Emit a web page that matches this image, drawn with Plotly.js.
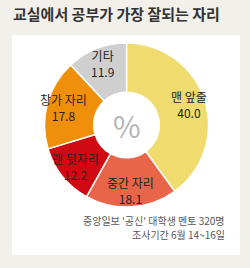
<!DOCTYPE html>
<html>
<head>
<meta charset="utf-8">
<script src="https://cdn.plot.ly/plotly-3.0.1.min.js"></script>
<style>html,body{margin:0;padding:0;background:#f2f0eb;}#chart{width:250px;height:268px;}</style>
</head>
<body>
<div id="chart"></div>
<script>
const categories = ["맨 앞줄", "중간 자리", "맨 뒷자리", "창가 자리", "기타"];
const values = [40.0, 18.1, 12.2, 17.8, 11.9];
const colors = ["#f0dc6e", "#e8654a", "#d00a12", "#f0900a", "#cfcfcf"];
const titleText = "교실에서 공부가 가장 잘되는 자리";
const sourceLines = ["중앙일보 '공신' 대학생 멘토 320명", "조사기간 6월 14~16일"];

const FONT = "'Noto Sans CJK KR', 'Noto Sans', sans-serif";
const W = 250, H = 268;
const dom = { x: [0.178, 0.834], y: [0.2276, 0.8396] };

const trace = {
  type: "pie",
  labels: categories,
  values: values,
  textinfo: "none",
  hoverinfo: "label+value",
  sort: false,
  direction: "clockwise",
  rotation: 0,
  hole: 0.4,
  marker: { colors: colors, line: { color: "#ffffff", width: 1.5 } },
  domain: dom,
  showlegend: false
};

// slice labels placed along each slice's mid-angle (derived from the values)
const cx = (dom.x[0] + dom.x[1]) / 2, cy = (dom.y[0] + dom.y[1]) / 2;
const Rpx = Math.min((dom.x[1] - dom.x[0]) * W, (dom.y[1] - dom.y[0]) * H) / 2;
const labelR = 0.8 * Rpx;
const total = values.reduce((a, b) => a + b, 0);
const labelAnns = [];
let cum = 0;
values.forEach((v, i) => {
  const mid = (cum + v / 2) / total * 2 * Math.PI;
  cum += v;
  labelAnns.push({
    xref: "paper", yref: "paper",
    x: cx + Math.sin(mid) * labelR / W,
    y: cy + Math.cos(mid) * labelR / H,
    xanchor: "center", yanchor: "middle", align: "center",
    text: categories[i] + "<br>" + values[i].toFixed(1),
    showarrow: false, borderpad: 0,
    font: { family: FONT, size: 12, color: "#222222" }
  });
});

const layout = {
  width: W, height: H,
  margin: { l: 0, r: 0, t: 0, b: 0 },
  paper_bgcolor: "#f2f0eb",
  title: {
    text: "<b>" + titleText + "</b>",
    font: { family: FONT, size: 15, color: "#333333" },
    x: 0.052, xanchor: "left", xref: "paper",
    y: 0.944, yanchor: "middle", yref: "paper"
  },
  shapes: [{
    type: "rect", xref: "paper", yref: "paper", layer: "below",
    x0: 12 / W, x1: 240 / W, y0: 1 - 255 / H, y1: 1 - 35 / H,
    fillcolor: "#ffffff", line: { width: 0 }
  }],
  annotations: labelAnns.concat([
    { text: "%", xref: "paper", yref: "paper", x: cx, y: cy, xanchor: "center", yanchor: "middle",
      showarrow: false, font: { family: FONT, size: 30, color: "#b5b5b5" } },
    { text: sourceLines[0], xref: "paper", yref: "paper", x: 226 / W, y: 1 - 220 / H,
      xanchor: "right", yanchor: "middle", showarrow: false, borderpad: 0,
      font: { family: FONT, size: 10, color: "#555555" } },
    { text: sourceLines[1], xref: "paper", yref: "paper", x: 226 / W, y: 1 - 234 / H,
      xanchor: "right", yanchor: "middle", showarrow: false, borderpad: 0,
      font: { family: FONT, size: 10, color: "#555555" } }
  ])
};

Plotly.newPlot("chart", [trace], layout, { displayModeBar: false, staticPlot: true });
</script>
</body>
</html>
